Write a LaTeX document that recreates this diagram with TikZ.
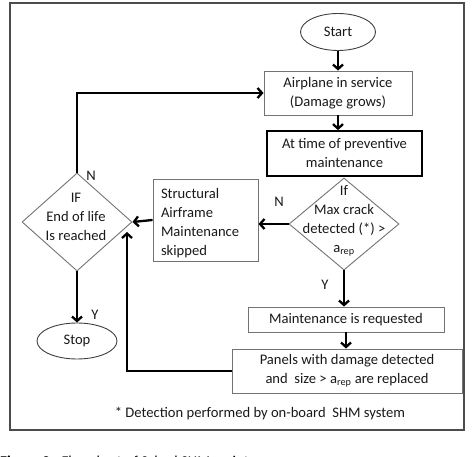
\documentclass[tikz,border=0pt]{standalone}
\usepackage{fontspec}
\setmainfont{Carlito}
\usepackage{tikz}
\usetikzlibrary{arrows.meta,shapes.geometric}

\newcommand{\arep}{a\textsubscript{rep}}

\begin{document}
\begin{tikzpicture}[
    x=1pt, y=-1pt,
    font=\fontsize{14.6}{19}\selectfont, text=black!90,
    box/.style={draw=black!55, line width=0.9pt, align=center, inner sep=0pt},
    heavybox/.style={box, draw=black, line width=1.7pt},
    decision/.style={diamond, draw=black!55, line width=0.9pt, inner sep=0pt},
    dtext/.style={align=center, inner sep=0pt},
    terminal/.style={ellipse, draw=black!75, line width=0.9pt, inner sep=0pt},
    flow/.style={-{Straight Barb[length=4.5pt, width=10pt]}, line width=2.3pt},
    lbl/.style={inner sep=1pt},
  ]
  \useasboundingbox (0,0) rectangle (474,457);
  \draw[black!70, line width=1.8pt] (10,3) rectangle (464,430);

  \node[terminal, minimum width=75, minimum height=37] (start) at (338,32) {Start};
  \node[box, minimum width=148, minimum height=44] (air) at (338,93)
    {Airplane in service\\(Damage grows)};
  \node[heavybox, minimum width=155, minimum height=45] (prev) at (344.5,153.5)
    {At time of preventive\\maintenance};
  \node[decision, minimum width=110, minimum height=92] (crack) at (344,224) {};
  \node[dtext] (crack-t) at (344,221) {If\\Max crack\\detected (*) >\\\arep};
  \node[box, minimum width=105, minimum height=82, text width=90, align=left]
    (skip) at (205.5,220) {};
  \node[dtext, text width=90, align=left] (skip-t) at (206,223)
    {Structural\\Airframe\\Maintenance\\skipped};
  \node[decision, minimum width=110, minimum height=98] (eol) at (77,222) {};
  \node[dtext] (eol-t) at (76,217) {IF\\End of life\\Is reached};
  \node[terminal, minimum width=80, minimum height=36] (stop) at (77,341) {Stop};
  \node[box, minimum width=196, minimum height=25] (req) at (346,319.5)
    {Maintenance is requested};
  \node[box, minimum width=230, minimum height=44] (rep) at (347,371)
    {Panels with damage detected\\and~ size > \arep{} are replaced};
  \node (note) at (260,413) {* Detection performed by on-board~ SHM system};
  \coordinate (back) at (127,232);

  % labels
  \node[lbl] (n-eol) at (91,176) {N};
  \node[lbl] (n-crack) at (279,202) {N};
  \node[lbl] (y-crack) at (325,285) {Y};
  \node[lbl] (y-eol) at (95,315) {Y};

  % main flow
  \draw[flow] (start) -- (air);
  \draw[flow] (air.south) -- (air.south |- prev.north);
  \draw[flow] (crack.west) -- (crack.west -| skip.east);
  \draw[flow] (skip.west) -- (eol.east);
  \draw[flow] (crack.south) -- (crack.south |- req.north);
  \draw[flow] (req.south) -- (req.south |- rep.north);
  % loops back
  \draw[flow] (rep.west) -| (back);
  \draw[flow] (eol.north) |- (air.west);
  \draw[flow] (eol.south) -- (stop.north);

  % caption, cut by the page edge
  \begin{scope}
    \clip (0,0) rectangle (474,457);
    \node[anchor=base west, inner sep=0pt, font=\fontsize{15}{18}\selectfont, text=black]
      (cap) at (0,466) {\textbf{Figure 3.}~ Flowchart of Sched SHM maintenance};
  \end{scope}
\end{tikzpicture}
\end{document}
